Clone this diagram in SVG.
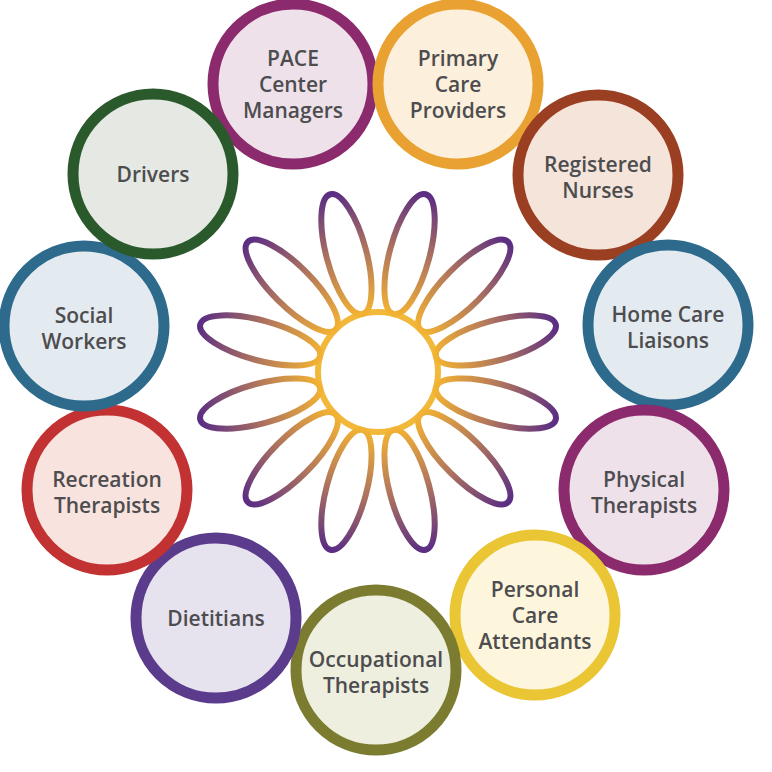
<svg xmlns="http://www.w3.org/2000/svg" width="772" height="772" viewBox="0 0 772 772">
<style>
.c{stroke-width:11}
.t{font-family:"Open Sans","Liberation Sans",sans-serif;font-weight:600;font-size:21px;fill:#4d4d4f;text-anchor:middle}
.p{fill:none;stroke:url(#g);stroke-width:6}
</style>
<defs>
<linearGradient id="g" gradientUnits="userSpaceOnUse" x1="0" y1="-185" x2="0" y2="-60">
<stop offset="0" stop-color="#5b2d84"/><stop offset="0.55" stop-color="#b57a5a"/><stop offset="1" stop-color="#f2b233"/>
</linearGradient>
</defs>
<rect width="772" height="772" fill="#fff"/>
<g id="connectors" transform="translate(378,372)">
<circle r="60" fill="none" stroke="#f2b83a" stroke-width="6"/>
<g id="petals">
<ellipse class="p" cx="0" cy="-122" rx="20" ry="62" transform="rotate(15)"/>
<ellipse class="p" cx="0" cy="-122" rx="20" ry="62" transform="rotate(45)"/>
<ellipse class="p" cx="0" cy="-122" rx="20" ry="62" transform="rotate(75)"/>
<ellipse class="p" cx="0" cy="-122" rx="20" ry="62" transform="rotate(105)"/>
<ellipse class="p" cx="0" cy="-122" rx="20" ry="62" transform="rotate(135)"/>
<ellipse class="p" cx="0" cy="-122" rx="20" ry="62" transform="rotate(165)"/>
<ellipse class="p" cx="0" cy="-122" rx="20" ry="62" transform="rotate(195)"/>
<ellipse class="p" cx="0" cy="-122" rx="20" ry="62" transform="rotate(225)"/>
<ellipse class="p" cx="0" cy="-122" rx="20" ry="62" transform="rotate(255)"/>
<ellipse class="p" cx="0" cy="-122" rx="20" ry="62" transform="rotate(285)"/>
<ellipse class="p" cx="0" cy="-122" rx="20" ry="62" transform="rotate(315)"/>
<ellipse class="p" cx="0" cy="-122" rx="20" ry="62" transform="rotate(345)"/>
</g>
</g>
<g id="pace"><circle class="c" cx="293" cy="84" r="80" fill="#eee1ea" stroke="#8b2a6c"/><text class="t" x="293" y="66">PACE</text><text class="t" x="293" y="92">Center</text><text class="t" x="293" y="118">Managers</text></g>
<g id="primary"><circle class="c" cx="458" cy="84" r="80" fill="#fcefdc" stroke="#e9a232"/><text class="t" x="458" y="66">Primary</text><text class="t" x="458" y="92">Care</text><text class="t" x="458" y="118">Providers</text></g>
<g id="nurses"><circle class="c" cx="598" cy="175" r="80" fill="#f4e4da" stroke="#9b3f22"/><text class="t" x="598" y="172">Registered</text><text class="t" x="598" y="198">Nurses</text></g>
<g id="homecare"><circle class="c" cx="668" cy="325" r="80" fill="#e3eaf0" stroke="#2d6a8c"/><text class="t" x="668" y="322">Home Care</text><text class="t" x="668" y="348">Liaisons</text></g>
<g id="physical"><circle class="c" cx="644" cy="490" r="80" fill="#eee1ea" stroke="#8b2a6c"/><text class="t" x="644" y="487">Physical</text><text class="t" x="644" y="513">Therapists</text></g>
<g id="personal"><circle class="c" cx="535" cy="615" r="80" fill="#fdf6dc" stroke="#eac534"/><text class="t" x="535" y="597">Personal</text><text class="t" x="535" y="623">Care</text><text class="t" x="535" y="649">Attendants</text></g>
<g id="occupational"><circle class="c" cx="376" cy="670" r="80" fill="#efefe0" stroke="#7c7c31"/><text class="t" x="376" y="667">Occupational</text><text class="t" x="376" y="693">Therapists</text></g>
<g id="dietitians"><circle class="c" cx="216" cy="618" r="80" fill="#e6e2ee" stroke="#5b3b8c"/><text class="t" x="216" y="626">Dietitians</text></g>
<g id="recreation"><circle class="c" cx="107" cy="490" r="80" fill="#f8e3de" stroke="#c33233"/><text class="t" x="107" y="487">Recreation</text><text class="t" x="107" y="513">Therapists</text></g>
<g id="social"><circle class="c" cx="84" cy="326" r="80" fill="#e3eaf0" stroke="#2d6a8c"/><text class="t" x="84" y="323">Social</text><text class="t" x="84" y="349">Workers</text></g>
<g id="drivers"><circle class="c" cx="153" cy="174" r="80" fill="#e5e8e3" stroke="#2a5a2c"/><text class="t" x="153" y="182">Drivers</text></g>
</svg>
